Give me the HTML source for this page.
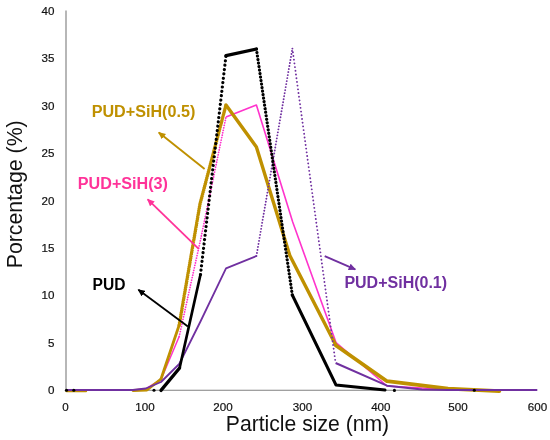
<!DOCTYPE html>
<html>
<head>
<meta charset="utf-8">
<title>Particle size distribution</title>
<style>
html,body{margin:0;padding:0;background:#fff;}
body{width:550px;height:440px;overflow:hidden;}
svg{display:block;}
text{font-family:"Liberation Sans",sans-serif;}
.tick{font-size:11.6px;fill:#111;stroke:#111;stroke-width:.2px;}
.axl{font-size:21px;fill:#111;}
.lab{font-size:16.3px;font-weight:bold;}
</style>
</head>
<body>
<svg width="550" height="440" viewBox="0 0 550 440">
<rect width="550" height="440" fill="#fff"/>
<!-- axes -->
<line x1="66" y1="10.5" x2="66" y2="390.5" stroke="#999" stroke-width="1.4"/>
<line x1="65.3" y1="390.3" x2="537" y2="390.3" stroke="#808080" stroke-width="1.1"/>
<!-- y ticks -->
<g class="tick" text-anchor="end">
<text x="54.5" y="14.9">40</text>
<text x="54.5" y="62.3">35</text>
<text x="54.5" y="109.7">30</text>
<text x="54.5" y="157.1">25</text>
<text x="54.5" y="204.5">20</text>
<text x="54.5" y="251.9">15</text>
<text x="54.5" y="299.3">10</text>
<text x="54.5" y="346.8">5</text>
<text x="54.5" y="394.3">0</text>
</g>
<!-- x ticks -->
<g class="tick" text-anchor="middle">
<text x="65.5" y="411.2">0</text>
<text x="145" y="411.2">100</text>
<text x="223" y="411.2">200</text>
<text x="302.5" y="411.2">300</text>
<text x="380.8" y="411.2">400</text>
<text x="458" y="411.2">500</text>
<text x="537.5" y="411.2">600</text>
</g>
<text class="axl" x="225.8" y="431.4" style="font-size:21.15px">Particle size (nm)</text>
<text class="axl" transform="translate(22.4,268.3) rotate(-90)" style="font-size:21.3px">Porcentage (%)</text>

<!-- pink series -->
<g fill="none" stroke="#ff33cc" stroke-linejoin="round">
<polyline points="133,390 145.7,389 161,379.5 179.2,336.5" stroke-width="1.5"/>
<polyline points="179.2,336.5 200.7,239 226,117" stroke-width="1.8" stroke-linecap="round" stroke-dasharray="0.01 2.5"/>
<polyline points="226,117 256.4,105 292.7,222 336,342.5 387,386 448,389.5 521,390" stroke-width="1.6"/>
</g>
<!-- gold series -->
<g fill="none" stroke="#bf9000" stroke-linejoin="round" stroke-linecap="round">
<polyline points="133,390.5 147,390 161,379" stroke-width="2.8"/>
<polyline points="161,379 179.2,325" stroke-width="2.8"/>
<polyline points="179.2,325 200,204 226,105" stroke-width="3.5" stroke-dasharray="0.01 2.1"/>
<polyline points="226,105 256.4,147 289.8,255.5 336,345.5" stroke-width="3.4"/>
<polyline points="336,345.5 387,381.2 448,388.6 499.3,391.2" stroke-width="3.8"/>
<polyline points="66.5,391 86,391" stroke-width="2.4"/>
</g>
<!-- purple series -->
<g fill="none" stroke="#7030a0" stroke-linejoin="round">
<polyline points="66,390 133,390 145.7,388.5 161,382 179.2,364 200.7,321 226,268.4 256.4,256" stroke-width="1.8"/>
<polyline points="256.4,256 292.4,48.6" stroke-width="1.9" stroke-linecap="round" stroke-dasharray="0.01 3.05"/>
<polyline points="292.4,48.6 335.6,363" stroke-width="1.9" stroke-linecap="round" stroke-dasharray="0.01 3.73"/>
<polyline points="335.6,363 387,385.7 422,389.5 448,390 537.3,390" stroke-width="2"/>
</g>
<!-- black series -->
<g fill="none" stroke="#000" stroke-linejoin="round" stroke-linecap="round">
<polyline points="161,390.4 179.6,368" stroke-width="3.3"/>
<polyline points="179.6,368 200.5,274.5" stroke-width="2.7"/>
<polyline points="200.5,274.5 226,55.6" stroke-width="3.2" stroke-dasharray="0.01 4.38"/>
<polyline points="226,55.6 256.4,49" stroke-width="3.2"/>
<polyline points="256.4,49 292.3,295" stroke-width="3.2" stroke-dasharray="0.01 3.54"/>
<polyline points="292.3,295 336,385 385,390" stroke-width="3"/>
</g>
<g fill="#000">
<circle cx="66.5" cy="390.3" r="1.55"/><circle cx="73.8" cy="390.3" r="1.55"/><circle cx="154" cy="390.3" r="1.55"/>
<circle cx="394.4" cy="390.4" r="1.55"/><circle cx="474.3" cy="390.2" r="1.55"/>
</g>

<!-- arrows -->
<defs>
<marker id="ag" markerWidth="8" markerHeight="7" refX="6.5" refY="3.4" orient="auto" markerUnits="userSpaceOnUse"><path d="M0,0 L7.5,3.4 L0,6.8 z" fill="#bf9000"/></marker>
<marker id="ap" markerWidth="8" markerHeight="7" refX="6.5" refY="3.4" orient="auto" markerUnits="userSpaceOnUse"><path d="M0,0 L7.5,3.4 L0,6.8 z" fill="#ff3399"/></marker>
<marker id="ab" markerWidth="8" markerHeight="7" refX="6.5" refY="3.4" orient="auto" markerUnits="userSpaceOnUse"><path d="M0,0 L7.5,3.4 L0,6.8 z" fill="#000"/></marker>
<marker id="av" markerWidth="8" markerHeight="7" refX="6.5" refY="3.4" orient="auto" markerUnits="userSpaceOnUse"><path d="M0,0 L7.5,3.4 L0,6.8 z" fill="#7030a0"/></marker>
</defs>
<line x1="204.6" y1="169" x2="158.8" y2="132.5" stroke="#bf9000" stroke-width="1.9" marker-end="url(#ag)"/>
<line x1="198.7" y1="248.8" x2="147.7" y2="199.4" stroke="#ff3399" stroke-width="1.8" marker-end="url(#ap)"/>
<line x1="187.9" y1="326.5" x2="138.4" y2="289.8" stroke="#000" stroke-width="1.8" marker-end="url(#ab)"/>
<line x1="324.7" y1="256.1" x2="355.2" y2="269.4" stroke="#7030a0" stroke-width="1.9" marker-end="url(#av)"/>

<!-- labels -->
<text class="lab" x="91.7" y="116.6" fill="#bf9000" style="font-size:16.15px">PUD+SiH(0.5)</text>
<text class="lab" x="77.8" y="188.8" fill="#ff3399" style="font-size:16.15px">PUD+SiH(3)</text>
<text class="lab" x="92.5" y="290.2" fill="#000" style="font-size:15.6px">PUD</text>
<text class="lab" x="344.4" y="288.4" fill="#7030a0" style="font-size:16px">PUD+SiH(0.1)</text>
</svg>
</body>
</html>
